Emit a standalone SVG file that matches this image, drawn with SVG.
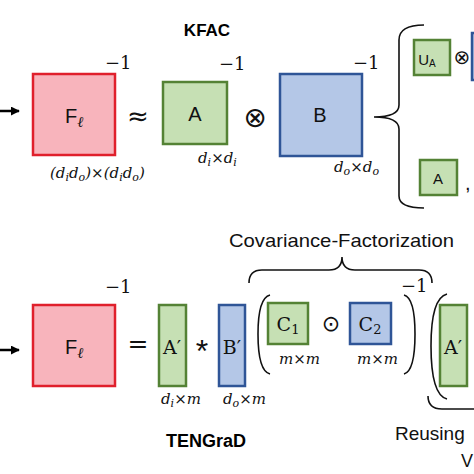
<svg xmlns="http://www.w3.org/2000/svg" width="474" height="474" viewBox="0 0 474 474">
<defs>
<marker id="ah" viewBox="0 0 10 10" refX="9" refY="5" markerWidth="9" markerHeight="9" orient="auto" markerUnits="userSpaceOnUse">
<path d="M0,0 L10,5 L0,10 z" fill="#000"/>
</marker>
</defs>
<style>
.red{fill:#f8b4bc;stroke:#e0202c;stroke-width:2.5}
.green{fill:#c6e0b4;stroke:#548235;stroke-width:2.5}
.blue{fill:#b4c7e7;stroke:#2f5597;stroke-width:2.5}
.sans{font-family:"Liberation Sans","Open Sans",sans-serif;fill:#111}
.bold{font-family:"Liberation Sans",sans-serif;font-weight:bold;fill:#000}
.serif{font-family:"DejaVu Serif","Liberation Serif",serif;fill:#111}
.math{font-family:"DejaVu Serif","Liberation Serif",serif;font-style:italic;fill:#111;font-size:15px}
.up{font-style:normal}
.op{font-family:"DejaVu Sans",sans-serif;fill:#111}
.brace{fill:none;stroke:#111;stroke-width:1.6}
</style>

<!-- top: KFAC -->
<text class="bold" x="207" y="36" font-size="17" text-anchor="middle">KFAC</text>

<g id="connectors">
<line x1="0" y1="111" x2="19" y2="111" stroke="#000" stroke-width="2.5" marker-end="url(#ah)"/>
<line x1="0" y1="350" x2="19" y2="350" stroke="#000" stroke-width="2.5" marker-end="url(#ah)"/>
<path class="brace" d="M424,25 Q399,25 399,40 L399,105 Q399,117 374,117 Q399,117 399,129 L399,196 Q399,208 424,208"/>
<path class="brace" d="M249,283 Q249,270 262,270 L329,270 Q342,270 342,257 Q342,270 355,270 L419,270 Q432,270 432,283"/>
<path class="brace" d="M270,295 Q258,298 258,334 Q258,371 270,374"/>
<path class="brace" d="M404,295 Q415,298 415,334 Q415,371 404,374"/>
<path class="brace" d="M447,294 Q431,298 431,346 Q431,395 447,399"/>
<path class="brace" d="M428,396 Q428,409 442,409 L480,409"/>
</g>

<g id="F_top">
<rect class="red" x="33" y="74" width="82" height="81"/>
<text class="sans" x="65" y="123" font-size="20">F<tspan class="math" font-size="14" dy="4">ℓ</tspan></text>
<text class="serif" x="105" y="69" font-size="18">−1</text>
<text class="math" x="50" y="178" font-size="16.5">(d<tspan font-size="11" dy="3">i</tspan><tspan dy="-3">d</tspan><tspan font-size="11" dy="3">o</tspan><tspan dy="-3">)</tspan><tspan class="up">×</tspan>(d<tspan font-size="11" dy="3">i</tspan><tspan dy="-3">d</tspan><tspan font-size="11" dy="3">o</tspan><tspan dy="-3">)</tspan></text>
</g>

<text class="op" x="138" y="125" font-size="26" text-anchor="middle">≈</text>

<g id="A_top">
<rect class="green" x="163" y="82" width="64" height="62"/>
<text class="sans" x="195" y="121" font-size="20" text-anchor="middle">A</text>
<text class="serif" x="219" y="70" font-size="18">−1</text>
<text class="math" x="198" y="163" font-size="16">d<tspan font-size="11" dy="3">i</tspan><tspan class="up" dy="-3">×</tspan>d<tspan font-size="11" dy="3">i</tspan></text>
</g>

<text class="op" x="255" y="127" font-size="28" text-anchor="middle">⊗</text>

<g id="B_top">
<rect class="blue" x="280" y="74" width="82" height="82"/>
<text class="sans" x="320" y="122" font-size="20" text-anchor="middle">B</text>
<text class="serif" x="353" y="69" font-size="18">−1</text>
<text class="math" x="334" y="172" font-size="16">d<tspan font-size="11" dy="3">o</tspan><tspan class="up" dy="-3">×</tspan>d<tspan font-size="11" dy="3">o</tspan></text>
</g>

<g id="UA">
<rect class="green" x="414" y="40" width="36" height="35"/>
<text class="sans" x="427" y="65" font-size="15" text-anchor="middle">U<tspan font-size="10" dy="2">A</tspan></text>
</g>
<text class="op" x="462" y="64" font-size="20" text-anchor="middle">⊗</text>
<g id="blue_partial">
<rect class="blue" x="472" y="33" width="30" height="47"/>
</g>
<g id="A_small">
<rect class="green" x="420" y="160" width="37" height="35"/>
<text class="sans" x="438" y="184" font-size="15" text-anchor="middle">A</text>
</g>
<text class="sans" x="465" y="190" font-size="20">,</text>

<!-- bottom: TENGraD -->
<text class="sans" x="229" y="247" font-size="19" textLength="225" lengthAdjust="spacingAndGlyphs">Covariance-Factorization</text>

<g id="F_bottom">
<rect class="red" x="33" y="305" width="82" height="81"/>
<text class="sans" x="65" y="354" font-size="20">F<tspan class="math" font-size="14" dy="4">ℓ</tspan></text>
<text class="serif" x="105" y="293" font-size="18">−1</text>
</g>

<text class="op" x="138" y="352" font-size="25" text-anchor="middle">=</text>

<g id="A_prime">
<rect class="green" x="159" y="305" width="27" height="81"/>
<text class="serif" x="172" y="354" font-size="19" text-anchor="middle">A′</text>
<text class="math" x="161" y="404" font-size="16">d<tspan font-size="11" dy="3">i</tspan><tspan class="up" dy="-3">×</tspan>m</text>
</g>

<text class="sans" x="202" y="362" font-size="32" text-anchor="middle">*</text>

<g id="B_prime">
<rect class="blue" x="219" y="305" width="26" height="81"/>
<text class="serif" x="232" y="354" font-size="19" text-anchor="middle">B′</text>
<text class="math" x="223" y="404" font-size="16">d<tspan font-size="11" dy="3">o</tspan><tspan class="up" dy="-3">×</tspan>m</text>
</g>

<g id="C1">
<rect class="green" x="268" y="303" width="40" height="41"/>
<text class="serif" x="288" y="331" font-size="19" text-anchor="middle">C<tspan font-size="13" dy="3">1</tspan></text>
<text class="math" x="279" y="364" font-size="16">m<tspan class="up">×</tspan>m</text>
</g>

<text class="op" x="331" y="331" font-size="22" text-anchor="middle">⊙</text>

<g id="C2">
<rect class="blue" x="350" y="303" width="41" height="41"/>
<text class="serif" x="370" y="331" font-size="19" text-anchor="middle">C<tspan font-size="13" dy="3">2</tspan></text>
<text class="math" x="357" y="364" font-size="16">m<tspan class="up">×</tspan>m</text>
</g>

<text class="serif" x="401" y="292" font-size="18">−1</text>

<g id="A_prime2">
<rect class="green" x="440" y="305" width="27" height="81"/>
<text class="serif" x="453" y="354" font-size="19" text-anchor="middle">A′</text>
</g>

<text class="bold" x="166" y="447" font-size="18">TENGraD</text>
<text class="sans" x="395" y="440" font-size="19">Reusing</text>
<text class="sans" x="461" y="467" font-size="18">V</text>
</svg>
